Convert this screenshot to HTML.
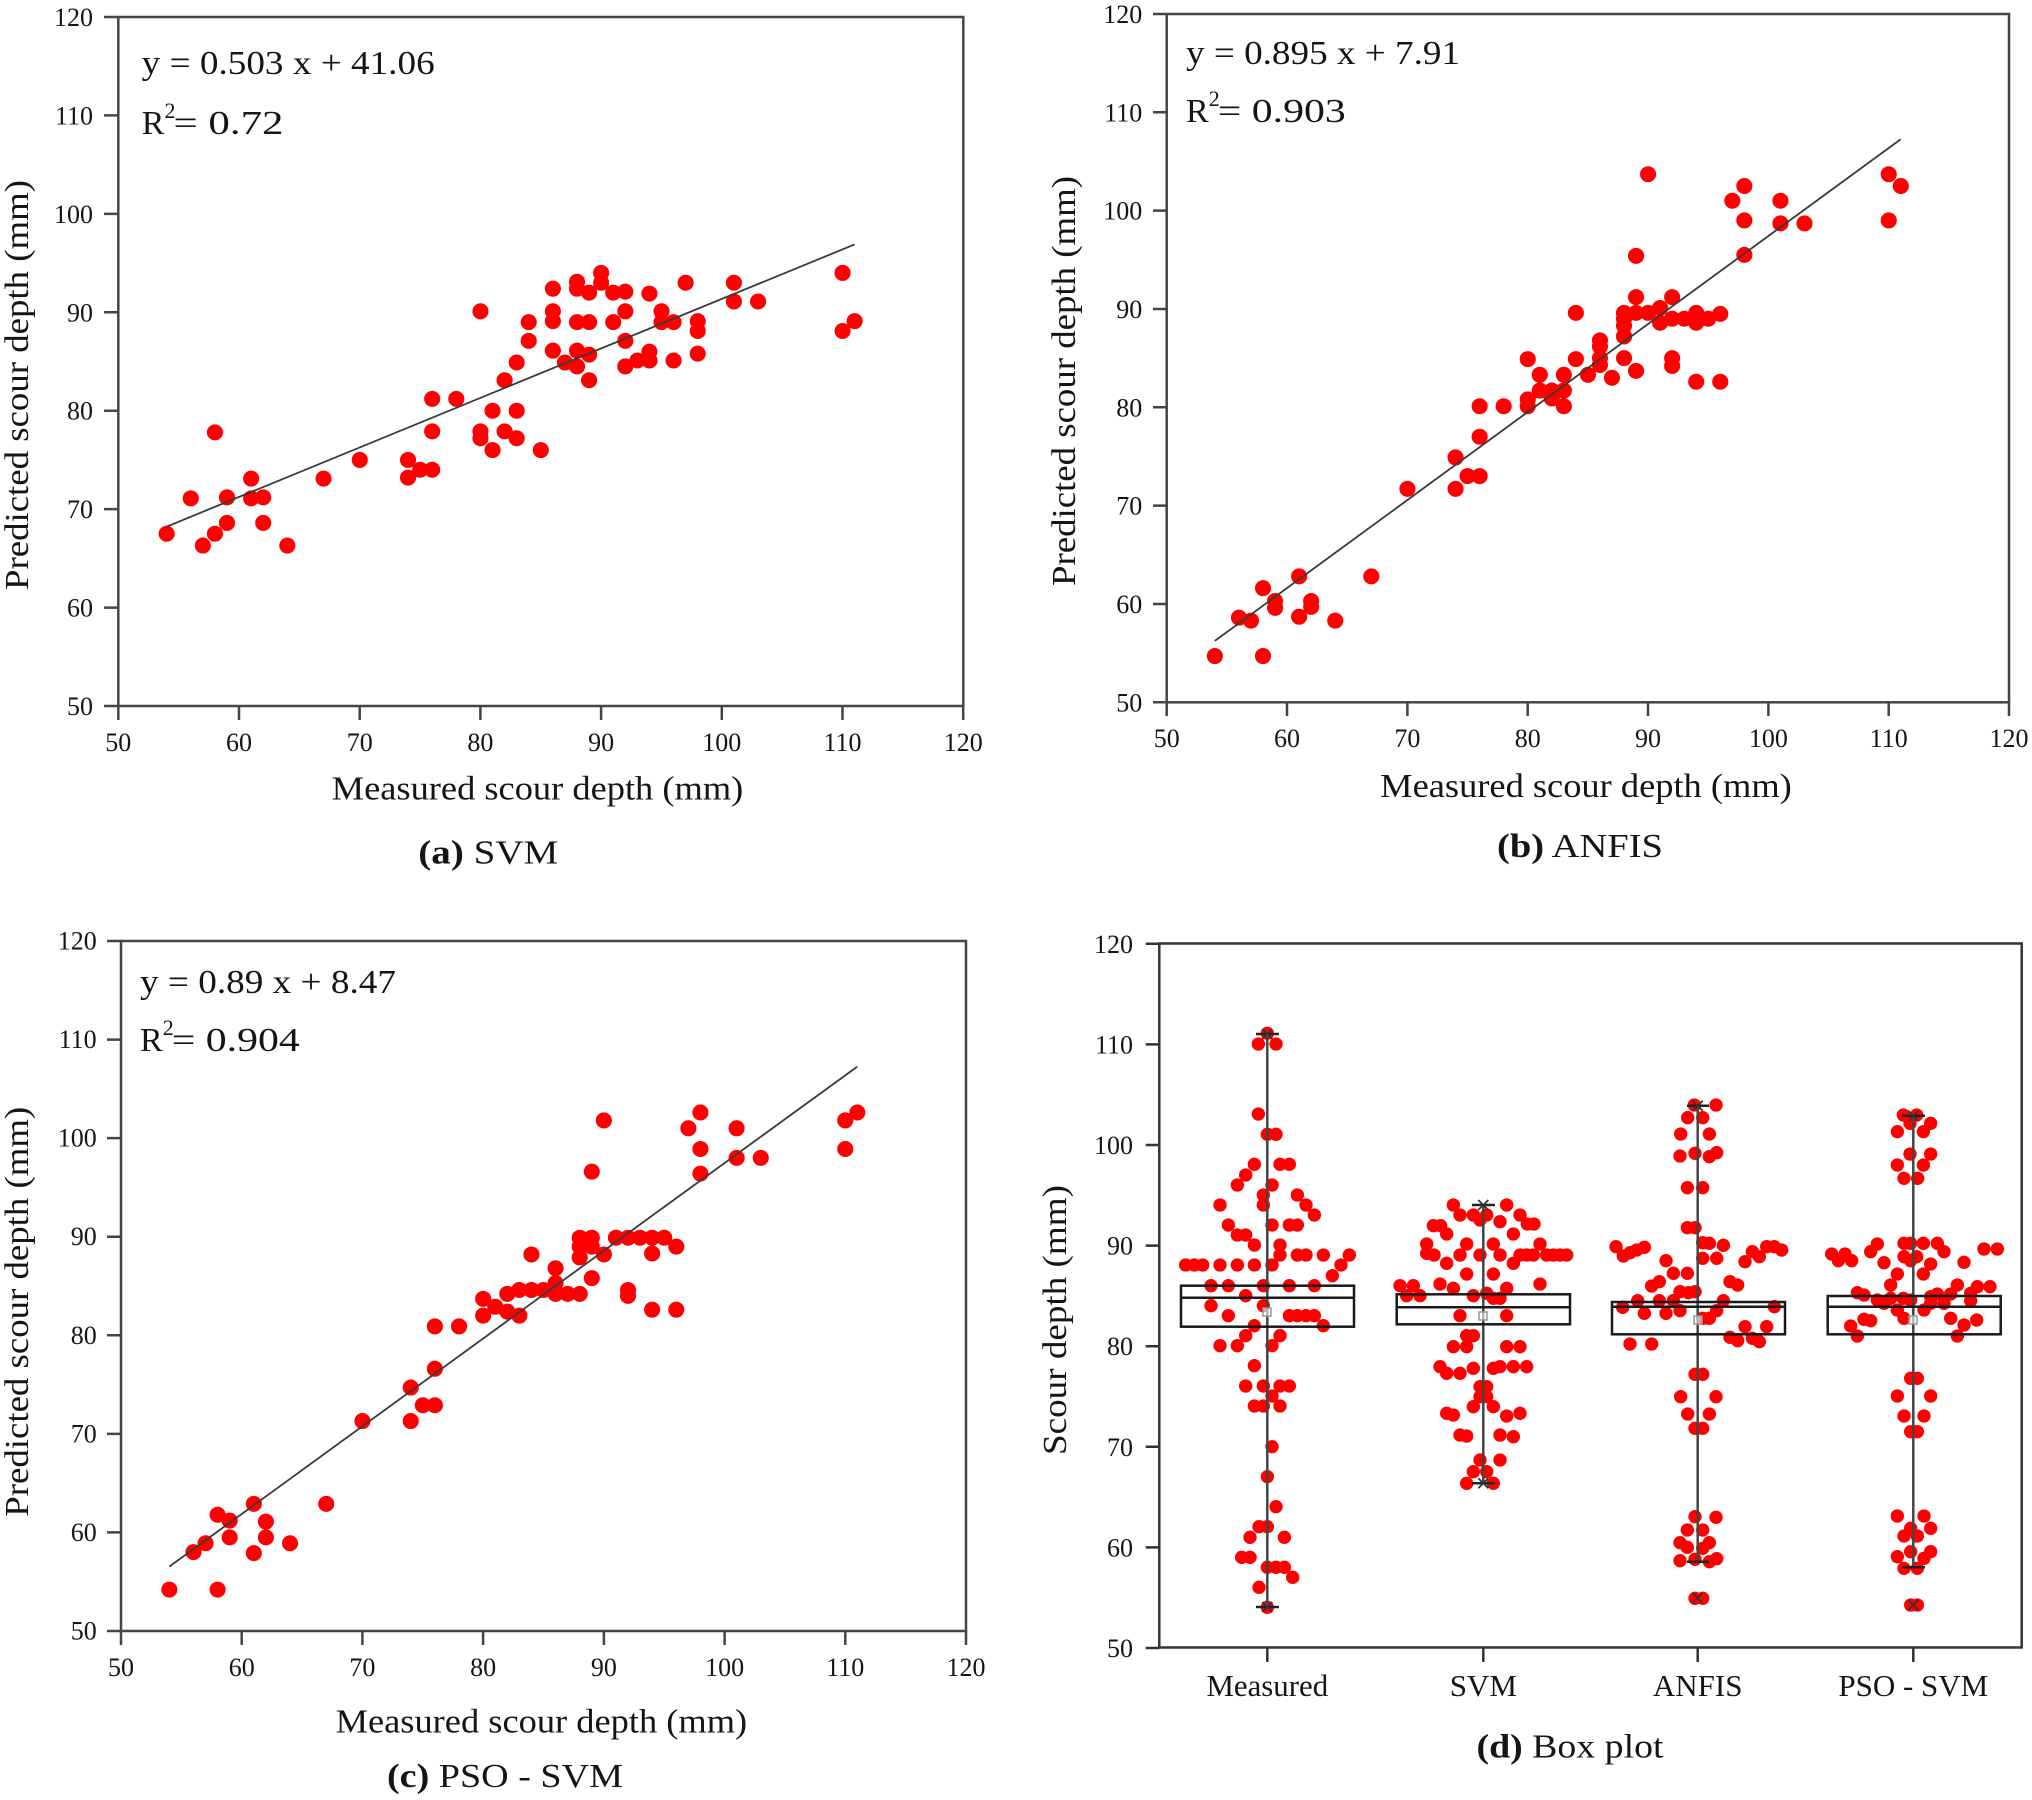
<!DOCTYPE html>
<html>
<head>
<meta charset="utf-8">
<style>
html,body{margin:0;padding:0;background:#fff;}
svg{display:block;}
text{font-family:"Liberation Serif","Times New Roman",serif;fill:#151515;}
</style>
</head>
<body>
<svg width="2032" height="1800" viewBox="0 0 2032 1800" xmlns="http://www.w3.org/2000/svg">
<rect width="2032" height="1800" fill="#fff"/>

<!-- ================= PANEL A ================= -->
<g>
  <g transform="matrix(12.07,0,0,-9.843,-485.2,1198.15)">
    <path fill="none" stroke="#ff0000" stroke-width="16" stroke-linecap="round" vector-effect="non-scaling-stroke"
      d="M54 67.5h.01M56 71.1h.01M57 66.3h.01M58 77.8h.01M58 67.5h.01M59 71.2h.01M59 68.6h.01M61 73.1h.01M61 71.1h.01M62 71.2h.01M62 68.6h.01M64 66.3h.01M67 73.1h.01M70 75h.01M74 75h.01M74 73.2h.01M75 74h.01M76 74h.01M76 77.9h.01M76 81.2h.01M78 81.2h.01M80 90.1h.01M80 77.9h.01M80 77.2h.01M81 80h.01M81 76h.01M82 83.1h.01M82 77.9h.01M83 84.9h.01M83 80h.01M83 77.2h.01M84 89h.01M84 87.1h.01M85 76h.01M86 92.4h.01M86 90.1h.01M86 89.1h.01M86 86.1h.01M87 84.9h.01M88 93.1h.01M88 92.4h.01M88 89h.01M88 86.1h.01M88 84.5h.01M89 92h.01M89 89h.01M89 85.7h.01M89 83.1h.01M90 94h.01M90 93h.01M91 92h.01M91 89h.01M92 92.1h.01M92 90.1h.01M92 87.1h.01M92 84.5h.01M93 85.1h.01M94 91.9h.01M94 86h.01M94 85.1h.01M95 90.1h.01M95 89h.01M96 89h.01M96 85.1h.01M97 93h.01M98 89.1h.01M98 88.1h.01M98 85.8h.01M101 93h.01M101 91.1h.01M103 91.1h.01M110 94h.01M110 88.1h.01M111 89.1h.01"/>
    <path d="M54 68.22L111 96.89" stroke="#3a3a3a" stroke-width="1.8" vector-effect="non-scaling-stroke" fill="none"/>
  </g>
  <rect x="118.3" y="17" width="845" height="689" fill="none" stroke="#454545" stroke-width="2.5"/>
  <path stroke="#454545" stroke-width="2.5" fill="none"
    d="M104 706H118.3M104 607.6H118.3M104 509.1H118.3M104 410.7H118.3M104 312.3H118.3M104 213.9H118.3M104 115.4H118.3M104 17H118.3
       M118.3 706V720M239 706V720M359.7 706V720M480.4 706V720M601.1 706V720M721.8 706V720M842.5 706V720M963.2 706V720"/>
  <g font-size="26" text-anchor="end">
    <text x="93" y="715">50</text><text x="93" y="616.6">60</text><text x="93" y="518.1">70</text><text x="93" y="419.7">80</text>
    <text x="93" y="321.3">90</text><text x="93" y="222.9">100</text><text x="93" y="124.4">110</text><text x="93" y="26">120</text>
  </g>
  <g font-size="26" text-anchor="middle">
    <text x="118.3" y="751">50</text><text x="239" y="751">60</text><text x="359.7" y="751">70</text><text x="480.4" y="751">80</text>
    <text x="601.1" y="751">90</text><text x="721.8" y="751">100</text><text x="842.5" y="751">110</text><text x="963.2" y="751">120</text>
  </g>
  <text x="141.7" y="74" font-size="34" textLength="293" lengthAdjust="spacingAndGlyphs">y = 0.503 x + 41.06</text>
  <text x="141.7" y="134" font-size="34">R</text>
  <text x="164.5" y="118" font-size="22">2</text>
  <text x="173.5" y="134" font-size="34" textLength="110" lengthAdjust="spacingAndGlyphs">= 0.72</text>
  <text x="537.5" y="799.3" font-size="34" text-anchor="middle" textLength="411.6" lengthAdjust="spacingAndGlyphs">Measured scour depth (mm)</text>
  <text transform="translate(28,385) rotate(-90)" font-size="34" text-anchor="middle" textLength="410" lengthAdjust="spacingAndGlyphs">Predicted scour depth (mm)</text>
  <text x="488.3" y="863.3" font-size="34" text-anchor="middle" textLength="140" lengthAdjust="spacingAndGlyphs"><tspan font-weight="bold">(a)</tspan> SVM</text>
</g>

<!-- ================= PANEL B ================= -->
<g>
  <g transform="matrix(12.033,0,0,-9.833,565.05,1193.9)">
    <path fill="none" stroke="#ff0000" stroke-width="16" stroke-linecap="round" vector-effect="non-scaling-stroke"
      d="M54 54.7h.01M56 58.6h.01M57 58.3h.01M58 61.6h.01M58 54.7h.01M59 60.3h.01M59 59.6h.01M61 62.8h.01M61 58.7h.01M62 60.3h.01M62 59.7h.01M64 58.3h.01M67 62.8h.01M70 71.7h.01M74 74.9h.01M74 71.7h.01M75 73h.01M76 73h.01M76 77h.01M76 80.1h.01M78 80.1h.01M80 84.9h.01M80 80.1h.01M80 80.8h.01M81 83.3h.01M81 81.7h.01M82 81.7h.01M82 80.9h.01M83 83.3h.01M83 81.7h.01M83 80.1h.01M84 89.6h.01M84 84.9h.01M85 83.3h.01M86 86.8h.01M86 86.2h.01M86 85h.01M86 84.3h.01M87 83h.01M88 89.6h.01M88 89h.01M88 88.3h.01M88 87.2h.01M88 85h.01M89 95.4h.01M89 91.2h.01M89 89.6h.01M89 83.7h.01M90 103.7h.01M90 89.6h.01M91 90.1h.01M91 88.6h.01M92 91.2h.01M92 85h.01M92 84.2h.01M92 89h.01M93 89h.01M94 89.6h.01M94 88.6h.01M94 82.6h.01M95 89h.01M96 89.5h.01M96 82.6h.01M97 101h.01M98 102.5h.01M98 99h.01M98 95.5h.01M101 101h.01M101 98.7h.01M103 98.7h.01M110 103.7h.01M110 99h.01M111 102.5h.01"/>
    <path d="M54 56.24L111 107.26" stroke="#3a3a3a" stroke-width="1.8" vector-effect="non-scaling-stroke" fill="none"/>
  </g>
  <rect x="1166.7" y="14" width="842.3" height="688.3" fill="none" stroke="#454545" stroke-width="2.5"/>
  <path stroke="#454545" stroke-width="2.5" fill="none"
    d="M1153 702.3H1166.7M1153 604H1166.7M1153 505.6H1166.7M1153 407.3H1166.7M1153 309H1166.7M1153 210.6H1166.7M1153 112.3H1166.7M1153 14H1166.7
       M1166.7 702.3V716M1287 702.3V716M1407.4 702.3V716M1527.7 702.3V716M1648 702.3V716M1768.4 702.3V716M1888.7 702.3V716M2009 702.3V716"/>
  <g font-size="26" text-anchor="end">
    <text x="1142.3" y="711.3">50</text><text x="1142.3" y="613">60</text><text x="1142.3" y="514.6">70</text><text x="1142.3" y="416.3">80</text>
    <text x="1142.3" y="318">90</text><text x="1142.3" y="219.6">100</text><text x="1142.3" y="121.3">110</text><text x="1142.3" y="23">120</text>
  </g>
  <g font-size="26" text-anchor="middle">
    <text x="1166.7" y="747">50</text><text x="1287" y="747">60</text><text x="1407.4" y="747">70</text><text x="1527.7" y="747">80</text>
    <text x="1648" y="747">90</text><text x="1768.4" y="747">100</text><text x="1888.7" y="747">110</text><text x="2009" y="747">120</text>
  </g>
  <text x="1186" y="64" font-size="34" textLength="274" lengthAdjust="spacingAndGlyphs">y = 0.895 x + 7.91</text>
  <text x="1186" y="122" font-size="34">R</text>
  <text x="1208.8" y="106" font-size="22">2</text>
  <text x="1217.8" y="122" font-size="34" textLength="128" lengthAdjust="spacingAndGlyphs">= 0.903</text>
  <text x="1586" y="797" font-size="34" text-anchor="middle" textLength="411.6" lengthAdjust="spacingAndGlyphs">Measured scour depth (mm)</text>
  <text transform="translate(1075,381) rotate(-90)" font-size="34" text-anchor="middle" textLength="410" lengthAdjust="spacingAndGlyphs">Predicted scour depth (mm)</text>
  <text x="1580" y="857" font-size="34" text-anchor="middle" textLength="166" lengthAdjust="spacingAndGlyphs"><tspan font-weight="bold">(b)</tspan> ANFIS</text>
</g>

<!-- ================= PANEL C ================= -->
<g>
  <g transform="matrix(12.07,0,0,-9.857,-482.5,2123.85)">
    <path fill="none" stroke="#ff0000" stroke-width="16" stroke-linecap="round" vector-effect="non-scaling-stroke"
      d="M54 54.2h.01M56 58h.01M57 58.9h.01M58 61.8h.01M58 54.2h.01M59 61.2h.01M59 59.5h.01M61 62.9h.01M61 57.9h.01M62 61.1h.01M62 59.5h.01M64 58.9h.01M67 62.9h.01M70 71.3h.01M74 74.7h.01M74 71.3h.01M75 72.9h.01M76 72.9h.01M76 76.6h.01M76 80.9h.01M78 80.9h.01M80 83.7h.01M80 82h.01M81 82.9h.01M82 84.2h.01M82 82.4h.01M83 82h.01M83 84.6h.01M84 88.2h.01M84 84.6h.01M85 84.6h.01M86 85.3h.01M86 84.2h.01M86 86.8h.01M87 84.2h.01M88 89.9h.01M88 89h.01M88 87.9h.01M88 84.2h.01M89 96.6h.01M89 89.9h.01M89 89h.01M89 85.8h.01M90 101.8h.01M90 88.2h.01M91 89.9h.01M92 89.9h.01M92 84.6h.01M92 84h.01M93 89.9h.01M94 89.9h.01M94 88.3h.01M94 82.6h.01M95 89.9h.01M96 89h.01M96 82.6h.01M97 101h.01M98 102.6h.01M98 98.9h.01M98 96.4h.01M101 101h.01M101 98h.01M103 98h.01M110 101.8h.01M110 98.9h.01M111 102.6h.01"/>
    <path d="M54 56.53L111 107.26" stroke="#3a3a3a" stroke-width="1.8" vector-effect="non-scaling-stroke" fill="none"/>
  </g>
  <rect x="121" y="941" width="845" height="690" fill="none" stroke="#454545" stroke-width="2.5"/>
  <path stroke="#454545" stroke-width="2.5" fill="none"
    d="M107 1631H121M107 1532.4H121M107 1433.9H121M107 1335.3H121M107 1236.7H121M107 1138.1H121M107 1039.6H121M107 941H121
       M121 1631V1645M241.7 1631V1645M362.4 1631V1645M483.1 1631V1645M603.9 1631V1645M724.6 1631V1645M845.3 1631V1645M966 1631V1645"/>
  <g font-size="26" text-anchor="end">
    <text x="96.7" y="1639.5">50</text><text x="96.7" y="1540.9">60</text><text x="96.7" y="1442.4">70</text><text x="96.7" y="1343.8">80</text>
    <text x="96.7" y="1245.2">90</text><text x="96.7" y="1146.6">100</text><text x="96.7" y="1048.1">110</text><text x="96.7" y="949.5">120</text>
  </g>
  <g font-size="26" text-anchor="middle">
    <text x="121" y="1676">50</text><text x="241.7" y="1676">60</text><text x="362.4" y="1676">70</text><text x="483.1" y="1676">80</text>
    <text x="603.9" y="1676">90</text><text x="724.6" y="1676">100</text><text x="845.3" y="1676">110</text><text x="966" y="1676">120</text>
  </g>
  <text x="140" y="993" font-size="34" textLength="256" lengthAdjust="spacingAndGlyphs">y = 0.89 x + 8.47</text>
  <text x="140" y="1051" font-size="34">R</text>
  <text x="162.8" y="1035" font-size="22">2</text>
  <text x="171.8" y="1051" font-size="34" textLength="128" lengthAdjust="spacingAndGlyphs">= 0.904</text>
  <text x="541.4" y="1732.4" font-size="34" text-anchor="middle" textLength="411.6" lengthAdjust="spacingAndGlyphs">Measured scour depth (mm)</text>
  <text transform="translate(28,1311.7) rotate(-90)" font-size="34" text-anchor="middle" textLength="410" lengthAdjust="spacingAndGlyphs">Predicted scour depth (mm)</text>
  <text x="505" y="1787" font-size="34" text-anchor="middle" textLength="236" lengthAdjust="spacingAndGlyphs"><tspan font-weight="bold">(c)</tspan> PSO - SVM</text>
</g>

<!-- ================= PANEL D ================= -->
<g>
  <g transform="translate(1140,920) scale(0.33333)">
    <path fill="none" stroke="#ff0000" stroke-width="40" stroke-linecap="round"
      d="M382 340h.1M355 372h.1M408 372h.1M355 582h.1M382 643h.1M408 643h.1M343 733h.1M420 733h.1M448 733h.1M317 765h.1M292 795h.1M396 795h.1M370 825h.1M370 855h.1M472 825h.1M498 855h.1M523 885h.1M240 855h.1M265 915h.1M396 915h.1M448 915h.1M472 915h.1M292 945h.1M317 945h.1M343 975h.1M420 975h.1M420 1005h.1M472 1005h.1M498 1005h.1M550 1005h.1M628 1005h.1M603 1035h.1M577 1067h.1M137 1035h.1M163 1035h.1M188 1035h.1M240 1035h.1M292 1035h.1M343 1035h.1M396 1035h.1M213 1097h.1M265 1097h.1M370 1097h.1M448 1097h.1M523 1097h.1M317 1127h.1M213 1157h.1M370 1157h.1M265 1187h.1M448 1187h.1M472 1187h.1M498 1187h.1M523 1187h.1M550 1217h.1M343 1217h.1M317 1247h.1M420 1247h.1M240 1277h.1M292 1277h.1M396 1277h.1
         M940 855h.1M1100 855h.1M960 885h.1M1000 885h.1M1020 900h.1M1040 885h.1M1080 905h.1M1140 885h.1M1162 912h.1M1182 912h.1M1120 942h.1M880 917h.1M902 917h.1M920 942h.1M860 972h.1M860 1000h.1M882 1005h.1M920 1030h.1M960 1005h.1M980 972h.1M1020 1005h.1M1060 972h.1M1080 1005h.1M1120 1030h.1M1140 1005h.1M1160 1005h.1M1180 1005h.1M1200 972h.1M1220 1005h.1M1240 1005h.1M1260 1005h.1M1280 1005h.1M980 1062h.1M1060 1062h.1M780 1097h.1M800 1127h.1M820 1097h.1M840 1127h.1M900 1092h.1M940 1105h.1M1000 1127h.1M1040 1120h.1M1060 1135h.1M1080 1135h.1M1100 1105h.1M1200 1092h.1M960 1187h.1M1100 1187h.1M980 1247h.1M1000 1247h.1M940 1280h.1M980 1280h.1M1100 1280h.1M1140 1280h.1"/>
  </g>
  <g transform="translate(1140,1200) scale(0.33333)">
    <path fill="none" stroke="#ff0000" stroke-width="40" stroke-linecap="round"
      d="M343 497h.1M317 558h.1M370 558h.1M420 558h.1M448 558h.1M396 588h.1M343 618h.1M370 618h.1M420 618h.1M396 740h.1M382 830h.1M408 920h.1M357 980h.1M382 980h.1M330 1012h.1M433 1012h.1M305 1072h.1M330 1072h.1M382 1102h.1M408 1102h.1M433 1102h.1M458 1132h.1M357 1162h.1M382 1222h.1
         M900 500h.1M920 520h.1M960 520h.1M1000 505h.1M1060 505h.1M1080 500h.1M1120 500h.1M1160 500h.1M1020 560h.1M1040 560h.1M1020 590h.1M1040 590h.1M1000 620h.1M1060 620h.1M920 640h.1M940 645h.1M1100 648h.1M1140 640h.1M960 705h.1M980 708h.1M1080 705h.1M1120 710h.1M1020 780h.1M1080 780h.1M1000 815h.1M1040 815h.1M980 850h.1M1060 850h.1"/>
  </g>
  <g transform="translate(1590,1090) scale(0.33333)">
    <path fill="none" stroke="#ff0000" stroke-width="40" stroke-linecap="round"
      d="M313 45h.1M378 45h.1M293 83h.1M338 83h.1M272 132h.1M358 132h.1M270 198h.1M315 190h.1M358 200h.1M380 188h.1M292 293h.1M338 293h.1M292 413h.1M315 413h.1M78 470h.1M100 498h.1M120 488h.1M140 480h.1M163 472h.1M338 458h.1M358 460h.1M400 466h.1M338 505h.1M380 505h.1M228 512h.1M465 515h.1M487 485h.1M508 500h.1M530 470h.1M553 470h.1M575 480h.1M250 550h.1M292 550h.1M185 588h.1M208 575h.1M420 575h.1M443 585h.1M270 605h.1M295 608h.1M315 605h.1M143 632h.1M208 632h.1M250 632h.1M98 652h.1M163 670h.1M228 670h.1M270 662h.1M400 632h.1M380 662h.1M338 685h.1M358 685h.1M553 650h.1M465 710h.1M530 710h.1M420 742h.1M443 752h.1M487 745h.1M508 755h.1M120 762h.1M185 762h.1
         M940 75h.1M980 75h.1M960 100h.1M922 125h.1M1000 125h.1M1022 100h.1M960 192h.1M1022 192h.1M922 225h.1M1000 225h.1M942 265h.1M983 265h.1M725 492h.1M745 512h.1M765 492h.1M785 512h.1M842 485h.1M862 462h.1M942 460h.1M962 460h.1M1000 460h.1M1042 460h.1M1062 485h.1M942 500h.1M962 512h.1M980 500h.1M882 518h.1M1022 522h.1M1000 552h.1M1122 517h.1M1182 477h.1M1222 477h.1M922 552h.1M902 585h.1M802 608h.1M822 615h.1M862 630h.1M882 640h.1M902 625h.1M940 625h.1M962 630h.1M1022 620h.1M1042 612h.1M1062 640h.1M1082 612h.1M1102 585h.1M1142 610h.1M1162 590h.1M1200 590h.1M1142 632h.1M922 660h.1M942 685h.1M1002 660h.1M1022 640h.1M822 688h.1M842 692h.1M782 708h.1M802 738h.1M1082 685h.1M1122 705h.1M1102 738h.1M1160 690h.1"/>
  </g>
  <g transform="translate(1590,1350) scale(0.33333)">
    <path fill="none" stroke="#ff0000" stroke-width="40" stroke-linecap="round"
      d="M315 73h.1M338 73h.1M272 140h.1M378 140h.1M293 192h.1M358 192h.1M315 235h.1M338 235h.1M315 500h.1M378 502h.1M292 540h.1M338 540h.1M270 578h.1M292 592h.1M358 578h.1M338 595h.1M270 632h.1M315 628h.1M358 635h.1M380 626h.1M315 745h.1M338 745h.1
         M962 85h.1M982 85h.1M922 138h.1M1022 138h.1M942 198h.1M1002 198h.1M962 245h.1M982 245h.1M922 498h.1M1002 498h.1M962 535h.1M1022 535h.1M942 558h.1M982 558h.1M962 605h.1M1022 605h.1M922 620h.1M1002 625h.1M942 655h.1M982 655h.1M962 765h.1M982 765h.1"/>
  </g>

  <path stroke="#444" stroke-width="2.5" fill="none"
    d="M1267.3 1034V1607M1483.3 1205V1483.3M1697.7 1105.7V1561.7M1913.3 1115.7V1567.3"/>
  <path stroke="#222" stroke-width="2.5" fill="none"
    d="M1256 1034H1279M1256 1607H1279M1472 1205H1495M1472 1483.3H1495M1687 1105.7H1709M1687 1561.7H1709M1902 1115.7H1925M1902 1567.3H1925"/>
  <path stroke="#333" stroke-width="1.8" fill="none"
    d="M1262.3 1029l10 10M1262.3 1039l10 -10M1262.3 1602l10 10M1262.3 1612l10 -10M1478.3 1200l10 10M1478.3 1210l10 -10M1478.3 1478.3l10 10M1478.3 1488.3l10 -10M1692.7 1100.7l10 10M1692.7 1110.7l10 -10M1692.7 1593l10 10M1692.7 1603l10 -10M1908.3 1110.7l10 10M1908.3 1120.7l10 -10M1908.3 1600l10 10M1908.3 1610l10 -10"/>
  <g fill="none" stroke="#1a1a1a" stroke-width="2.5">
    <rect x="1181" y="1285.7" width="173" height="41"/>
    <path d="M1181 1297.7H1354"/>
    <rect x="1396.7" y="1294.3" width="173.3" height="30"/>
    <path d="M1396.7 1307.3H1570"/>
    <rect x="1612" y="1302" width="173" height="32.3"/>
    <path d="M1612 1306.7H1785"/>
    <rect x="1827.7" y="1296" width="173" height="38.3"/>
    <path d="M1827.7 1306.7H2000.7"/>
  </g>
  <g fill="#fff" fill-opacity="0.6" stroke="#999" stroke-width="1.5">
    <rect x="1263" y="1308" width="8" height="8"/>
    <rect x="1479" y="1312" width="8" height="8"/>
    <rect x="1694" y="1316" width="8" height="8"/>
    <rect x="1909" y="1316" width="8" height="8"/>
  </g>

  <rect x="1159.3" y="943.5" width="862.4" height="704" fill="none" stroke="#333" stroke-width="2.5"/>
  <path stroke="#333" stroke-width="2.5" fill="none"
    d="M1145.7 1648H1159.3M1145.7 1547.4H1159.3M1145.7 1446.8H1159.3M1145.7 1346.2H1159.3M1145.7 1245.6H1159.3M1145.7 1145H1159.3M1145.7 1044.4H1159.3M1145.7 943.8H1159.3
       M1267.3 1648V1662M1483.3 1648V1662M1697.7 1648V1662M1913.3 1648V1662"/>
  <g font-size="26" text-anchor="end">
    <text x="1133" y="1657">50</text><text x="1133" y="1556.4">60</text><text x="1133" y="1455.8">70</text><text x="1133" y="1355.2">80</text>
    <text x="1133" y="1254.6">90</text><text x="1133" y="1154">100</text><text x="1133" y="1053.4">110</text><text x="1133" y="952.8">120</text>
  </g>
  <g font-size="31" text-anchor="middle">
    <text x="1267.3" y="1696" textLength="121.7" lengthAdjust="spacingAndGlyphs">Measured</text>
    <text x="1483.3" y="1696">SVM</text>
    <text x="1697.7" y="1696">ANFIS</text>
    <text x="1913.3" y="1696">PSO - SVM</text>
  </g>
  <text transform="translate(1066,1320) rotate(-90)" font-size="34" text-anchor="middle" textLength="270" lengthAdjust="spacingAndGlyphs">Scour depth (mm)</text>
  <text x="1570" y="1757.5" font-size="34" text-anchor="middle" textLength="187" lengthAdjust="spacingAndGlyphs"><tspan font-weight="bold">(d)</tspan> Box plot</text>
</g>
</svg>
</body>
</html>
